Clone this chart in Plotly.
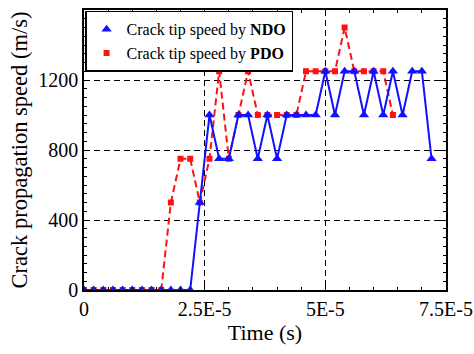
import plotly.graph_objects as go

time_pdo = [0, 2e-6, 4e-6, 6e-6, 8e-6, 10e-6, 12e-6, 14e-6, 16e-6, 18e-6, 20e-6,
            22e-6, 24e-6, 26e-6, 28e-6, 30e-6, 32e-6, 34e-6, 36e-6, 38e-6, 40e-6,
            42e-6, 44e-6, 46e-6, 48e-6, 50e-6, 52e-6, 54e-6, 56e-6, 58e-6, 60e-6,
            62e-6, 64e-6]
speed_pdo = [0, 0, 0, 0, 0, 0, 0, 0, 0, 500, 750,
             750, 500, 750, 1250, 750, 1000, 1250, 1000, 1000, 1000,
             1000, 1000, 1250, 1250, 1250, 1250, 1500, 1250, 1250, 1250,
             1250, 1000]

time_ndo = [0, 2e-6, 4e-6, 6e-6, 8e-6, 10e-6, 12e-6, 14e-6, 16e-6, 18e-6, 20e-6,
            22e-6, 24e-6, 26e-6, 28e-6, 30e-6, 32e-6, 34e-6, 36e-6, 38e-6, 40e-6,
            42e-6, 44e-6, 46e-6, 48e-6, 50e-6, 52e-6, 54e-6, 56e-6, 58e-6, 60e-6,
            62e-6, 64e-6, 66e-6, 68e-6, 70e-6, 72e-6]
speed_ndo = [0, 0, 0, 0, 0, 0, 0, 0, 0, 0, 0,
             0, 500, 1000, 750, 750, 1000, 1000, 750, 1000, 750,
             1000, 1000, 1000, 1000, 1250, 1000, 1250, 1250, 1000, 1250,
             1000, 1250, 1000, 1250, 1250, 750]

x_tickvals = [0, 2.5e-5, 5e-5, 7.5e-5]
x_ticktext = ["0", "2.5E-5", "5E-5", "7.5E-5"]
y_tickvals = [0, 400, 800, 1200, 1600]

FONT = "Liberation Serif"
RED = "#ff1111"
BLUE = "#1111ff"

fig = go.Figure()
fig.add_trace(go.Scatter(
    x=time_pdo, y=speed_pdo, mode="lines+markers", showlegend=False,
    line=dict(color=RED, width=2, dash="7px,4px"),
    marker=dict(symbol="square", size=6, color=RED),
))
fig.add_trace(go.Scatter(
    x=time_ndo, y=speed_ndo, mode="lines+markers", showlegend=False,
    line=dict(color=BLUE, width=2),
    marker=dict(symbol="triangle-up", size=9, color=BLUE),
))
# legend entries (markers only, as in the reference)
fig.add_trace(go.Scatter(
    x=[None], y=[None], mode="markers", name="Crack tip speed by <b>NDO</b>",
    legendrank=1, marker=dict(symbol="triangle-up", size=9, color=BLUE),
))
fig.add_trace(go.Scatter(
    x=[None], y=[None], mode="markers", name="Crack tip speed by <b>PDO</b>",
    legendrank=2, marker=dict(symbol="square", size=6, color=RED),
))

axis_common = dict(
    showline=True, linecolor="black", linewidth=1.5, mirror="allticks",
    ticks="inside", ticklen=6, tickwidth=1.2, tickcolor="black",
    showgrid=True, gridcolor="black", griddash="6px,4px", gridwidth=1.2,
    zeroline=False, automargin=False,
    tickfont=dict(family=FONT, size=20, color="black"),
)

fig.update_layout(
    width=474, height=354,
    margin=dict(l=84, r=28, t=10, b=64),
    paper_bgcolor="white", plot_bgcolor="white",
    font=dict(family=FONT, size=20, color="black"),
    showlegend=True,
    legend=dict(
        x=0.003, y=0.997, xanchor="left", yanchor="top",
        bgcolor="white", bordercolor="black", borderwidth=1.5,
        font=dict(family=FONT, size=16, color="black"),
        tracegroupgap=0, itemwidth=30,
    ),
    xaxis=dict(
        range=[0, 7.5e-5], tickvals=x_tickvals, ticktext=x_ticktext,
        minor=dict(dtick=5e-6, ticks="inside", ticklen=3, tickcolor="black", tickwidth=1, showgrid=False),
        title=dict(text="Time (s)", font=dict(family=FONT, size=22), standoff=6),
        **axis_common,
    ),
    yaxis=dict(
        range=[0, 1600], tickvals=y_tickvals,
        minor=dict(dtick=50, ticks="inside", ticklen=3, tickcolor="black", tickwidth=1, showgrid=False),
        title=dict(text="Crack propagation speed (m/s)", font=dict(family=FONT, size=22.5), standoff=4),
        **axis_common,
    ),
)

fig.write_html("out.html")
